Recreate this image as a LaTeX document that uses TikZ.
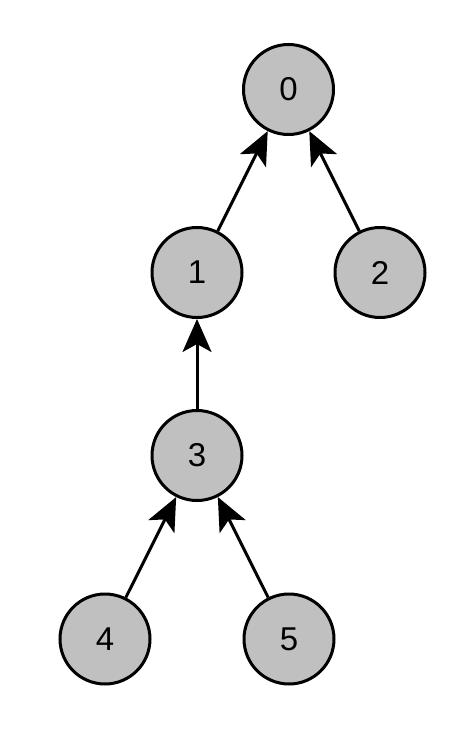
\documentclass[tikz,border=0pt]{standalone}
\usepackage{fontspec}
\setmainfont{Liberation Sans}
\usetikzlibrary{arrows.meta}
\definecolor{nodegray}{HTML}{C0C0C0}
\begin{document}
\begin{tikzpicture}[x=1pt,y=-1pt,
  vtx/.style={circle,draw=black,fill=nodegray,line width=3pt,minimum size=90pt,inner sep=0pt,
    font=\fontsize{33}{40}\selectfont},
  edge/.style={line width=3pt,-{Stealth[length=33pt,width=29pt,inset=8pt]}}]
\useasboundingbox (0,0) rectangle (474,730);
\node[vtx] (n0) at (288.5,89.5) {0};
\node[vtx] (n1) at (197,272.5) {1};
\node[vtx] (n2) at (380,272.5) {2};
\node[vtx] (n3) at (197,455.5) {3};
\node[vtx] (n4) at (105,639) {4};
\node[vtx] (n5) at (289,639) {5};
\draw[edge] (n1) -- (n0);
\draw[edge] (n2) -- (n0);
\draw[edge] (n3) -- (n1);
\draw[edge] (n4) -- (n3);
\draw[edge] (n5) -- (n3);
\end{tikzpicture}
\end{document}
